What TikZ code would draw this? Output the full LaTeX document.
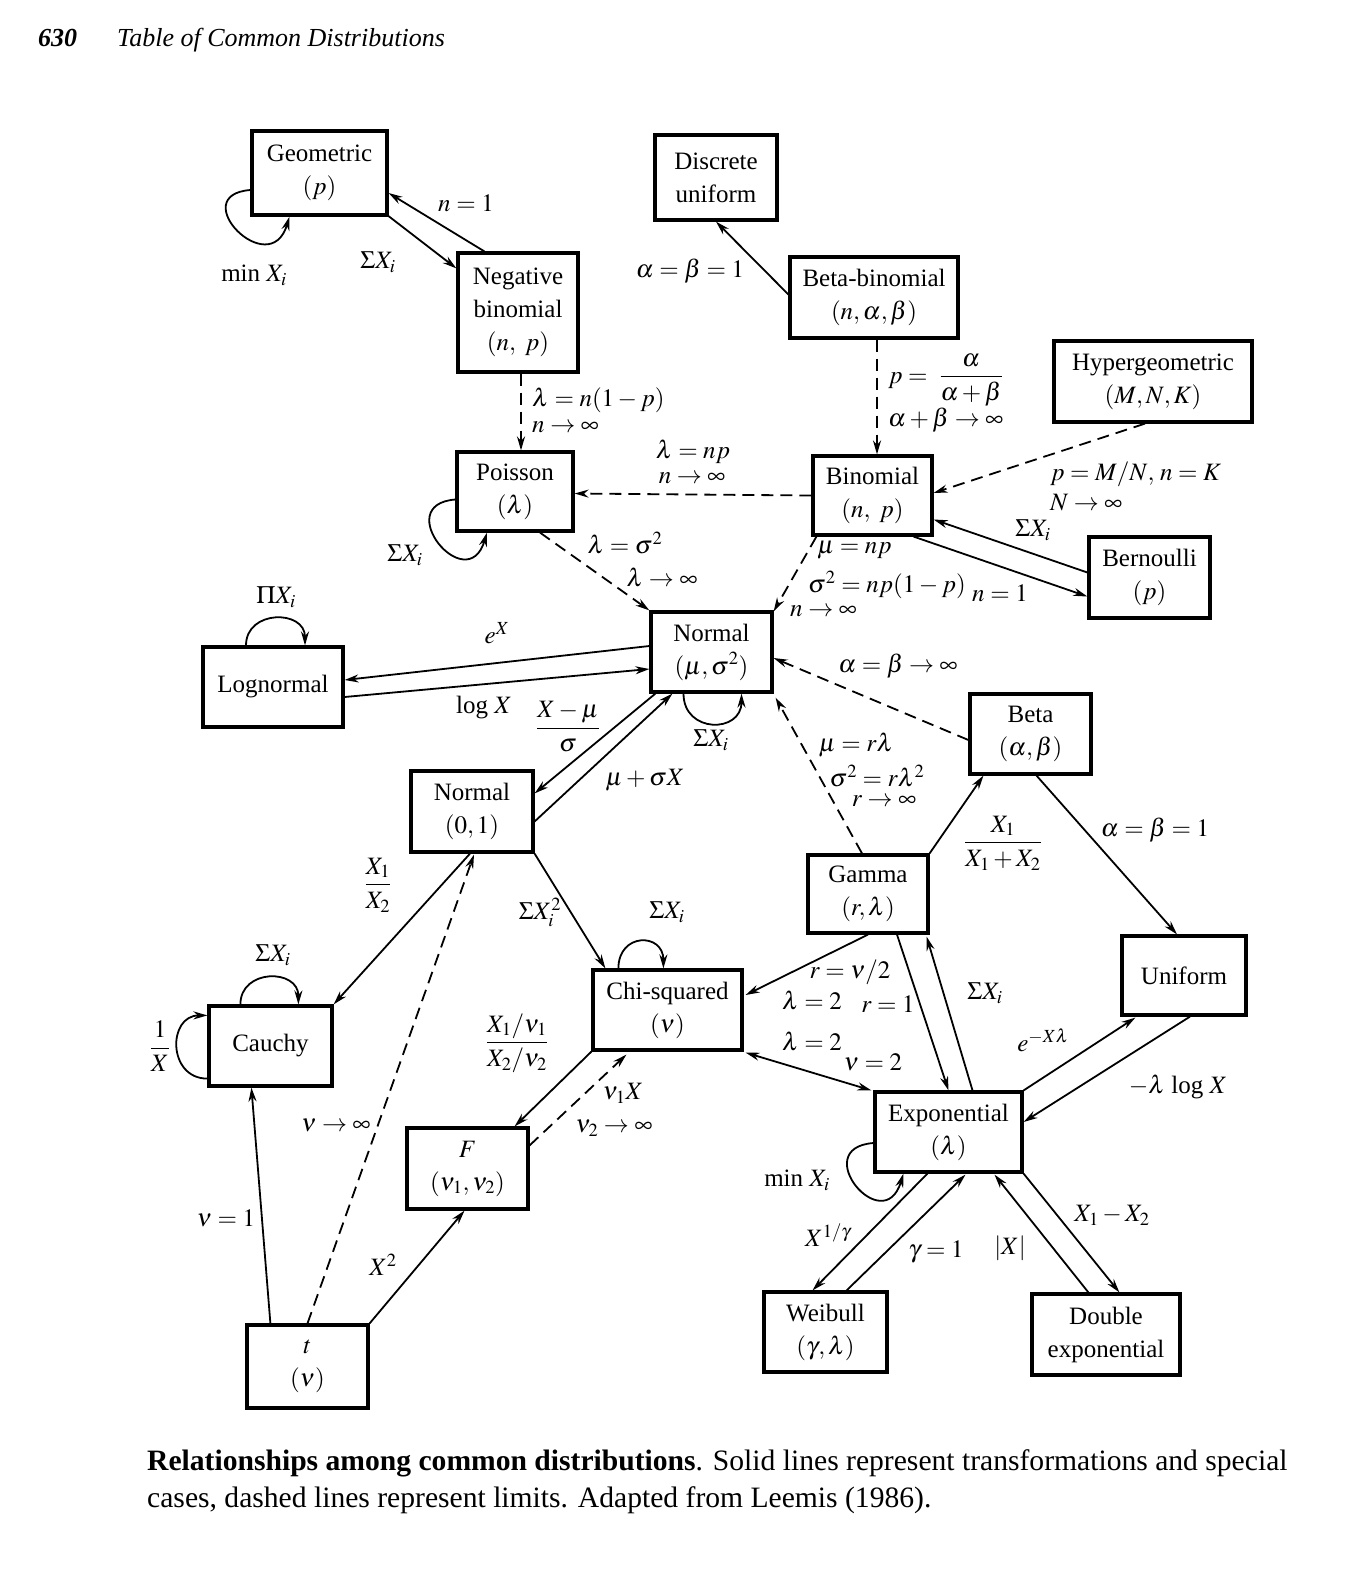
\documentclass[tikz,border=0pt]{standalone}
\usepackage{amsmath}
\usepackage{mathptmx}
\usepackage{fontspec}
\setmainfont{Liberation Serif}
\usetikzlibrary{arrows.meta,calc}
\begin{document}
\begin{tikzpicture}[x=1pt,y=-1pt,
  >={Stealth[length=14pt,width=8pt]},
  dist/.style={draw, line width=3.2pt, align=center, font=\fontsize{25}{33}\selectfont, inner sep=2pt},
  conn/.style={line width=1.8pt, ->},
  lim/.style={conn, dash pattern=on 12pt off 7pt},
  lab/.style={font=\fontsize{25}{30}\selectfont, inner sep=0pt, align=left},
  capt/.style={font=\fontsize{29.6}{35}\selectfont, inner sep=0pt, anchor=base west}]
\useasboundingbox (0,0) rectangle (1358,1569);

% header and caption
\node[capt, font=\fontsize{26}{30}\selectfont] (pg) at (38,46) {\textbf{\textit{630}}};
\node[capt, font=\fontsize{26}{30}\selectfont] (hd) at (117,46) {\textit{Table of Common Distributions}};
\node[capt] (cap1) at (147,1470) {\textbf{Relationships among common distributions}. Solid lines represent transformations and special};
\node[capt] (cap2) at (147,1507) {cases, dashed lines represent limits. Adapted from Leemis (1986).};

% distributions
\node[dist, minimum width=135pt, minimum height=84pt] (geo) at (319.5,173) {Geometric\\$(p)$};
\node[dist, minimum width=120pt, minimum height=119pt] (nb) at (518,312.5) {Negative\\binomial\\$(n,\ p)$};
\node[dist, minimum width=122pt, minimum height=85pt] (du) at (716,177.5) {Discrete\\uniform};
\node[dist, minimum width=168pt, minimum height=81pt] (bb) at (874,297.5) {Beta-binomial\\$(n, \alpha, \beta)$};
\node[dist, minimum width=198pt, minimum height=81pt] (hyp) at (1153,381.5) {Hypergeometric\\$(M, N, K)$};
\node[dist, minimum width=116pt, minimum height=79pt] (poi) at (515,491.5) {Poisson\\$(\lambda)$};
\node[dist, minimum width=119pt, minimum height=79pt] (bin) at (872.5,495.5) {Binomial\\$(n,\ p)$};
\node[dist, minimum width=121pt, minimum height=81pt] (ber) at (1149.5,577.5) {Bernoulli\\$(p)$};
\node[dist, minimum width=140pt, minimum height=80pt] (logn) at (273,687) {Lognormal};
\node[dist, minimum width=121pt, minimum height=80pt] (nor) at (711.5,652) {Normal\\$(\mu, \sigma^2)$};
\node[dist, minimum width=121pt, minimum height=80pt] (beta) at (1030.5,734) {Beta\\$(\alpha, \beta)$};
\node[dist, minimum width=122pt, minimum height=81pt] (n01) at (472,811.5) {Normal\\$(0,1)$};
\node[dist, minimum width=120pt, minimum height=78pt] (gam) at (868,894) {Gamma\\$(r, \lambda)$};
\node[dist, minimum width=124pt, minimum height=79pt] (uni) at (1184,975.5) {Uniform};
\node[dist, minimum width=123pt, minimum height=80pt] (cau) at (270.5,1046) {Cauchy};
\node[dist, minimum width=149pt, minimum height=80pt] (chi) at (667.5,1010) {Chi-squared\\$(\nu)$};
\node[dist, minimum width=121pt, minimum height=81pt] (fd) at (467.5,1168.5) {$F$\\$(\nu_1, \nu_2)$};
\node[dist, minimum width=147pt, minimum height=80pt] (expo) at (948.5,1132) {Exponential\\$(\lambda)$};
\node[dist, minimum width=121pt, minimum height=83pt] (td) at (307.5,1366.5) {$t$\\$(\nu)$};
\node[dist, minimum width=123pt, minimum height=80pt] (wei) at (825.5,1332) {Weibull\\$(\gamma, \lambda)$};
\node[dist, minimum width=148pt, minimum height=81pt] (dexp) at (1106,1334.5) {Double\\exponential};

% connectors
\draw[conn] ($(geo.south east)+(-2,-2)$) -- ($(nb.north west)+(0,17)$);
\draw[conn] ($(nb.north west)+(28,0)$) -- ($(geo.east)+(0,20)$);
\draw[conn] ($(geo.west)+(0,17)$) .. controls +(-66,5) and +(-20,66) .. ($(geo.south)+(-30,0)$);
\draw[conn] ($(bb.west)+(0,-3)$) -- (du.south);
\draw[lim] ($(nb.south)+(3,0)$) -- ($(poi.north)+(6,0)$);
\draw[lim] ($(bb.south)+(3,0)$) -- ($(bin.north)+(4.5,0)$);
\draw[lim] ($(hyp.south)+(-8,0)$) -- ($(bin.east)+(0,-2.5)$);
\draw[lim] (bin.west) -- ($(poi.east)+(0,2)$);
\draw[conn] ($(ber.west)+(0,-5)$) -- ($(bin.east)+(0,24)$);
\draw[conn] ($(bin.south east)+(-20,0)$) -- ($(ber.west)+(0,19)$);
\draw[lim] ($(bin.south west)+(5,0)$) -- ($(nor.north east)+(0,1)$);
\draw[lim] ($(poi.south)+(25,0)$) -- (nor.north west);
\draw[conn] ($(poi.west)+(0,8)$) .. controls +(-66,5) and +(-20,66) .. ($(poi.south)+(-28,0)$);
\draw[conn] ($(nor.west)+(0,-6)$) -- ($(logn.east)+(0,-7)$);
\draw[conn] ($(logn.east)+(0,10)$) -- ($(nor.west)+(0,17)$);
\draw[conn] ($(logn.north)+(-27,0)$) .. controls +(0,-36) and +(0,-36) .. ($(logn.north)+(32,0)$);
\draw[conn] ($(nor.south)+(-28,0)$) .. controls +(0,40) and +(0,40) .. ($(nor.south)+(30,0)$);
\draw[conn] ($(nor.south west)+(6,0)$) -- ($(n01.north east)+(0,24)$);
\draw[conn] ($(n01.east)+(0,10)$) -- ($(nor.south west)+(23,0)$);
\draw[lim] ($(beta.west)+(0,6)$) -- ($(nor.east)+(0,6)$);
\draw[lim] ($(gam.north)+(-6,0)$) -- ($(nor.south east)+(2,4)$);
\draw[conn] (gam.north east) -- ($(beta.south west)+(15,0)$);
\draw[conn] ($(beta.south)+(6,0)$) -- ($(uni.north)+(-7,0)$);
\draw[conn] ($(n01.south)+(-2,0)$) -- (cau.north east);
\draw[conn] (n01.south east) -- ($(chi.north west)+(14,0)$);
\draw[conn] ($(chi.north west)+(27,0)$) .. controls +(0,-36) and +(0,-36) .. ($(chi.north west)+(72,0)$);
\draw[conn] ($(cau.north west)+(33,0)$) .. controls +(0,-36) and +(0,-36) .. ($(cau.north west)+(91,0)$);
\draw[conn] ($(cau.south west)+(0,-9)$) .. controls +(-40,0) and +(-40,0) .. ($(cau.north west)+(0,11)$);
\draw[conn] (gam.south) -- ($(chi.east)+(2,-15)$);
\draw[conn] ($(gam.south)+(29,0)$) -- (expo.north);
\draw[conn] ($(expo.north)+(24,0)$) -- ($(gam.south east)+(-3,2)$);
\draw[conn, <->] ($(chi.south east)+(2,1)$) -- ($(expo.north west)+(-2,0)$);
\draw[conn] (expo.north east) -- ($(uni.south west)+(15,1)$);
\draw[conn] ($(uni.south)+(6,0)$) -- ($(expo.east)+(0,-10)$);
\draw[conn] (chi.south west) -- ($(fd.north east)+(-15,0)$);
\draw[lim] ($(fd.north east)+(0,19)$) -- ($(chi.south west)+(35,3)$);
\draw[conn] ($(td.north west)+(25,0)$) -- ($(cau.south west)+(44,0)$);
\draw[lim] (td.north) -- ($(n01.south)+(2,1)$);
\draw[conn] (td.north east) -- ($(fd.south)+(-3,0)$);
\draw[conn] ($(expo.west)+(0,11)$) .. controls +(-66,5) and +(-20,66) .. ($(expo.south west)+(30,0)$);
\draw[conn] ($(expo.south west)+(54,0)$) -- ($(wei.north)+(-13,0)$);
\draw[conn] ($(wei.north east)+(-42,0)$) -- ($(expo.south)+(17,1)$);
\draw[conn] ($(dexp.north west)+(58,0)$) -- ($(expo.south)+(46,1)$);
\draw[conn] (expo.south east) -- ($(dexp.north west)+(89,0)$);

% labels
\node[lab] (l1) at (378,262) {$\Sigma X_i$};
\node[lab] (l2) at (466,203) {$n=1$};
\node[lab] (l3) at (254,275) {min $X_i$};
\node[lab] (l4) at (690,271) {$\alpha=\beta=1$};
\node[lab, anchor=west] (l5) at (532,400) {$\lambda=n(1-p)$};
\node[lab, anchor=west] (l6) at (532,427) {$n\to\infty$};
\node[lab, anchor=west] (l7) at (888,380) {$p=\ \dfrac{\alpha}{\alpha+\beta}$};
\node[lab, anchor=west] (l8) at (888,420) {$\alpha+\beta\to\infty$};
\node[lab, anchor=west] (l9) at (1050,474) {$p=M/N,\, n=K$};
\node[lab, anchor=west] (l10) at (1050,503) {$N\to\infty$};
\node[lab] (l11) at (693,452) {$\lambda=np$};
\node[lab] (l12) at (692,478) {$n\to\infty$};
\node[lab] (l13) at (1033,530) {$\Sigma X_i$};
\node[lab] (l14) at (1000,593) {$n=1$};
\node[lab, anchor=west] (l15) at (817,550) {$\mu=np$};
\node[lab, anchor=west] (l16) at (808,585) {$\sigma^2=np(1-p)$};
\node[lab, anchor=west] (l17) at (790,611) {$n\to\infty$};
\node[lab] (l18) at (625,543) {$\lambda=\sigma^2$};
\node[lab] (l19) at (662,577) {$\lambda\to\infty$};
\node[lab] (l20) at (405,555) {$\Sigma X_i$};
\node[lab] (l21) at (497,633) {$e^X$};
\node[lab] (l22) at (484,708) {log $X$};
\node[lab] (l23) at (276,597) {$\Pi X_i$};
\node[lab] (l24) at (711,740) {$\Sigma X_i$};
\node[lab] (l25) at (568,727) {$\dfrac{X-\mu}{\sigma}$};
\node[lab] (l26) at (645,780) {$\mu+\sigma X$};
\node[lab] (l27) at (898,666) {$\alpha=\beta\to\infty$};
\node[lab] (l28) at (856,745) {$\mu=r\lambda$};
\node[lab] (l29) at (877,776) {$\sigma^2=r\lambda^2$};
\node[lab] (l30) at (884,801) {$r\to\infty$};
\node[lab] (l31) at (1003,843) {$\dfrac{X_1}{X_1+X_2}$};
\node[lab] (l32) at (1155,830) {$\alpha=\beta=1$};
\node[lab] (l33) at (378,885) {$\dfrac{X_1}{X_2}$};
\node[lab] (l34) at (540,912) {$\Sigma X_i^2$};
\node[lab] (l35) at (667,912) {$\Sigma X_i$};
\node[lab] (l36) at (273,955) {$\Sigma X_i$};
\node[lab] (l37) at (160,1046) {$\dfrac{1}{X}$};
\node[lab] (l38) at (850,972) {$r=\nu/2$};
\node[lab] (l39) at (812,1000) {$\lambda=2$};
\node[lab] (l40) at (888,1004) {$r=1$};
\node[lab] (l41) at (985,993) {$\Sigma X_i$};
\node[lab] (l42) at (812,1041) {$\lambda=2$};
\node[lab] (l43) at (873,1062) {$\nu=2$};
\node[lab] (l44) at (1043,1040) {$e^{-X\lambda}$};
\node[lab] (l45) at (1178,1087) {$-\lambda$ log $X$};
\node[lab] (l46) at (517,1043) {$\dfrac{X_1/\nu_1}{X_2/\nu_2}$};
\node[lab] (l47) at (623,1093) {$\nu_1 X$};
\node[lab] (l48) at (614,1128) {$\nu_2\to\infty$};
\node[lab] (l49) at (226,1218) {$\nu=1$};
\node[lab] (l50) at (336,1125) {$\nu\to\infty$};
\node[lab] (l51) at (383,1265) {$X^2$};
\node[lab] (l52) at (797,1180) {min $X_i$};
\node[lab] (l53) at (828,1235) {$X^{1/\gamma}$};
\node[lab] (l54) at (936,1252) {$\gamma=1$};
\node[lab] (l55) at (1010,1248) {$|X|$};
\node[lab] (l56) at (1112,1215) {$X_1-X_2$};
\end{tikzpicture}
\end{document}
